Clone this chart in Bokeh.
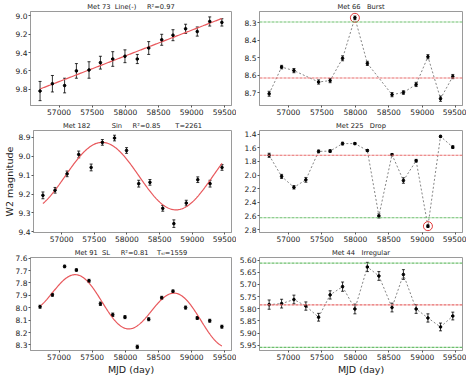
import numpy as np
from bokeh.plotting import figure
from bokeh.layouts import column, row
from bokeh.models import (ColumnDataSource, Whisker, TeeHead, FixedTicker,
                          NumeralTickFormatter, Span, Range1d)
from bokeh.embed import file_html
from bokeh.resources import INLINE

# ---------------- data ----------------
mjd = [56714, 56900, 57084, 57262, 57452, 57624, 57810, 57994,
       58180, 58352, 58548, 58718, 58908, 59084, 59272, 59455]
x_ticks = [57000, 57500, 58000, 58500, 59000, 59500]
x_limits = (56570, 59600)

# Met 73 - Line(-)
met73_mag = [9.82, 9.74, 9.76, 9.60, 9.59, 9.51, 9.47, 9.44, 9.47, 9.35, 9.26, 9.21, 9.14, 9.17, 9.06, 9.07]
met73_err = [0.105, 0.09, 0.08, 0.08, 0.09, 0.07, 0.08, 0.07, 0.05, 0.07, 0.06, 0.06, 0.05, 0.05, 0.05, 0.04]
met73_fit_mag58000 = 9.436
met73_fit_slope = -2.81e-4
met73_yticks = [9.0, 9.2, 9.4, 9.6, 9.8]
met73_ylim = (9.978, 8.951)

# Met 66 - Burst
met66_mjd = [56714, 56900, 57084, 57452, 57624, 57810, 57994, 58180, 58548, 58718, 58908, 59084, 59272, 59455]
met66_mag = [8.705, 8.553, 8.573, 8.638, 8.630, 8.503, 8.272, 8.532, 8.710, 8.698, 8.652, 8.494, 8.733, 8.607]
met66_err = [0.014, 0.010, 0.012, 0.012, 0.012, 0.014, 0.010, 0.012, 0.012, 0.010, 0.012, 0.012, 0.015, 0.012]
met66_mean = 8.615
met66_limits = [8.296]
met66_yticks = [8.3, 8.4, 8.5, 8.6, 8.7]
met66_ylim = (8.772, 8.236)

# Met 182 - Sin
met182_mag = [9.207, 9.180, 9.093, 8.990, 9.059, 8.926, 8.903, 8.969, 9.145, 9.138, 9.276, 9.357, 9.248, 9.124, 9.145, 9.059]
met182_err = [0.018, 0.015, 0.015, 0.018, 0.018, 0.015, 0.015, 0.015, 0.018, 0.015, 0.015, 0.02, 0.015, 0.015, 0.018, 0.015]
met182_mean, met182_amp, met182_period, met182_t0 = 9.105, 0.179, 2261, 57620
met182_yticks = [8.9, 9.0, 9.1, 9.2, 9.3, 9.4]
met182_ylim = (9.404, 8.863)

# Met 225 - Drop
met225_mag = [1.71, 2.02, 2.18, 2.07, 1.653, 1.648, 1.538, 1.538, 1.64, 2.60, 1.70, 2.08, 1.79, 2.75, 1.433, 1.59]
met225_err = [0.03, 0.03, 0.025, 0.035, 0.02, 0.02, 0.02, 0.015, 0.015, 0.03, 0.015, 0.04, 0.02, 0.02, 0.015, 0.02]
met225_mean = 1.71
met225_limits = [2.627]
met225_yticks = [1.4, 1.6, 1.8, 2.0, 2.2, 2.4, 2.6, 2.8]
met225_ylim = (2.843, 1.346)

# Met 91 - SL
met91_mag = [7.992, 7.896, 7.667, 7.696, 7.783, 7.968, 8.057, 8.076, 8.316, 8.093, 7.920, 7.867, 7.999, 8.083, 8.105, 8.153]
met91_err = [0.012, 0.012, 0.01, 0.01, 0.012, 0.014, 0.014, 0.012, 0.014, 0.012, 0.012, 0.01, 0.012, 0.012, 0.012, 0.012]
met91_mag58000, met91_slope, met91_amp, met91_period, met91_t0 = 7.9875, 1.0e-4, 0.18, 1490, 57275
met91_yticks = [7.6, 7.7, 7.8, 7.9, 8.0, 8.1, 8.2, 8.3]
met91_ylim = (8.345, 7.595)

# Met 44 - Irregular
met44_mag = [5.783, 5.779, 5.762, 5.789, 5.835, 5.743, 5.709, 5.801, 5.628, 5.665, 5.795, 5.659, 5.801, 5.838, 5.875, 5.830]
met44_err = [0.019, 0.018, 0.018, 0.017, 0.016, 0.017, 0.019, 0.02, 0.019, 0.018, 0.018, 0.02, 0.018, 0.017, 0.016, 0.016]
met44_mean = 5.784
met44_limits = [5.612, 5.959]
met44_yticks = [5.60, 5.65, 5.70, 5.75, 5.80, 5.85, 5.90, 5.95]
met44_ylim = (5.972, 5.589)

# ---------------- style ----------------
FONT = "DejaVu Sans"
FRAME = "#9a9a9a"
TXT = "#222222"
FIT = "#e8585c"
REF_RED = "#e86a6a"
REF_GREEN = "#6cbf6c"
TITLE_SIZE = "6.7px"
NB = "\u00a0"

W1, W2 = 236, 230
H1, H2, H3 = 119, 127, 131
L1, R1 = 30, 5
L2, R2 = 23, 4


def make_panel(width, height, ylim, yticks, yfmt, left, right, top, bottom,
               title, title_offset=0, ylabel=None, xlabel=None):
    p = figure(width=width, height=height, title=title,
               x_range=Range1d(*x_limits), y_range=Range1d(*ylim),
               output_backend="svg", toolbar_location=None,
               min_border_left=left, min_border_right=right,
               min_border_top=top, min_border_bottom=bottom)
    p.title.align = "center"
    p.title.text_font = FONT
    p.title.text_font_size = TITLE_SIZE
    p.title.text_font_style = "normal"
    p.title.text_color = TXT
    p.title.standoff = 1
    p.title.offset = title_offset
    p.xgrid.visible = False
    p.ygrid.visible = False
    p.outline_line_color = FRAME
    p.outline_line_width = 1
    p.background_fill_color = "white"
    p.border_fill_color = "white"
    for ax, ticks, fmt in ((p.xaxis[0], x_ticks, "0"), (p.yaxis[0], yticks, yfmt)):
        ax.ticker = FixedTicker(ticks=ticks)
        ax.formatter = NumeralTickFormatter(format=fmt)
        ax.axis_line_color = FRAME
        ax.major_tick_line_color = "#555555"
        ax.major_tick_out = 2
        ax.major_tick_in = 0
        ax.minor_tick_line_color = None
        ax.major_label_standoff = 1
        ax.major_label_text_font = FONT
        ax.major_label_text_font_size = "7.5px"
        ax.major_label_text_color = TXT
        ax.axis_label_text_font = FONT
        ax.axis_label_text_font_size = "9.5px"
        ax.axis_label_text_font_style = "normal"
        ax.axis_label_standoff = 1
        ax.axis_label_text_color = TXT
    if ylabel:
        p.yaxis.axis_label = ylabel
    if xlabel:
        p.xaxis.axis_label = xlabel
    return p


def add_points(p, x, mag, err):
    mag = np.asarray(mag)
    err = np.asarray(err)
    src = ColumnDataSource(dict(x=x, y=mag, lo=mag - err, hi=mag + err))
    w = Whisker(base="x", lower="lo", upper="hi", source=src, dimension="height",
                line_color="black", line_width=0.8)
    w.upper_head = TeeHead(size=3, line_color="black", line_width=0.8)
    w.lower_head = TeeHead(size=3, line_color="black", line_width=0.8)
    p.add_layout(w)
    p.scatter("x", "y", source=src, size=2.6, color="black")


def add_hlines(p, mean, limits):
    p.add_layout(Span(location=mean, dimension="width", line_color=REF_RED,
                      line_width=1.1, line_dash="3 1"))
    for v in limits:
        p.add_layout(Span(location=v, dimension="width", line_color=REF_GREEN,
                          line_width=1.1, line_dash="3 1"))


def gap(n):
    return NB * n


tgrid = np.linspace(mjd[0], mjd[-1], 300)

# ---- Panel 1: Met 73
p1 = make_panel(W1, H1, met73_ylim, met73_yticks, "0.0", L1, R1, 9, 14,
                "Met 73" + gap(2) + "Line(-)" + gap(5) + "R²=0.97", -3)
p1.line(tgrid, met73_fit_mag58000 + met73_fit_slope * (tgrid - 58000),
        line_color=FIT, line_width=1.2)
add_points(p1, mjd, met73_mag, met73_err)

# ---- Panel 2: Met 66
p2 = make_panel(W2, H1, met66_ylim, met66_yticks, "0.0", L2, R2, 9, 14,
                "Met 66" + gap(3) + "Burst", -3)
add_hlines(p2, met66_mean, met66_limits)
p2.line(met66_mjd, met66_mag, line_color="#666666", line_width=0.8, line_dash="2 2")
add_points(p2, met66_mjd, met66_mag, met66_err)
i66 = int(np.argmin(met66_mag))
p2.scatter([met66_mjd[i66]], [met66_mag[i66]], size=9, fill_color=None,
           line_color="#e03a3a", line_width=1)

# ---- Panel 3: Met 182
p3 = make_panel(W1, H2, met182_ylim, met182_yticks, "0.0", L1, R1, 9, 14,
                "Met 182" + gap(10) + "Sin" + gap(5) + "R²=0.85" + gap(7) + "T=2261", 3,
                ylabel="W2 magnitude")
p3.line(tgrid, met182_mean - met182_amp * np.cos(2 * np.pi * (tgrid - met182_t0) / met182_period),
        line_color=FIT, line_width=1.2)
add_points(p3, mjd, met182_mag, met182_err)

# ---- Panel 4: Met 225
p4 = make_panel(W2, H2, met225_ylim, met225_yticks, "0.0", L2, R2, 9, 14,
                "Met 225" + gap(3) + "Drop", -2)
add_hlines(p4, met225_mean, met225_limits)
p4.line(mjd, met225_mag, line_color="#666666", line_width=0.8, line_dash="2 2")
add_points(p4, mjd, met225_mag, met225_err)
i225 = int(np.argmax(met225_mag))
p4.scatter([mjd[i225]], [met225_mag[i225]], size=9, fill_color=None,
           line_color="#e03a3a", line_width=1)

# ---- Panel 5: Met 91
p5 = make_panel(W1, H3, met91_ylim, met91_yticks, "0.0", L1, R1, 9, 26,
                "Met 91" + gap(2) + "SL" + gap(5) + "R²=0.81" + gap(4) + "Tₛₗ=1559", 3,
                xlabel="MJD (day)")
p5.line(tgrid, met91_mag58000 + met91_slope * (tgrid - 58000)
        - met91_amp * np.cos(2 * np.pi * (tgrid - met91_t0) / met91_period),
        line_color=FIT, line_width=1.2)
add_points(p5, mjd, met91_mag, met91_err)

# ---- Panel 6: Met 44
p6 = make_panel(W2, H3, met44_ylim, met44_yticks, "0.00", L2, R2, 9, 26,
                "Met 44" + gap(3) + "Irregular", 1, xlabel="MJD (day)")
add_hlines(p6, met44_mean, met44_limits)
p6.line(mjd, met44_mag, line_color="#666666", line_width=0.8, line_dash="2 2")
add_points(p6, mjd, met44_mag, met44_err)

layout = column(row(p1, p2), row(p3, p4), row(p5, p6))
open("out.html", "w").write(file_html(layout, INLINE))
